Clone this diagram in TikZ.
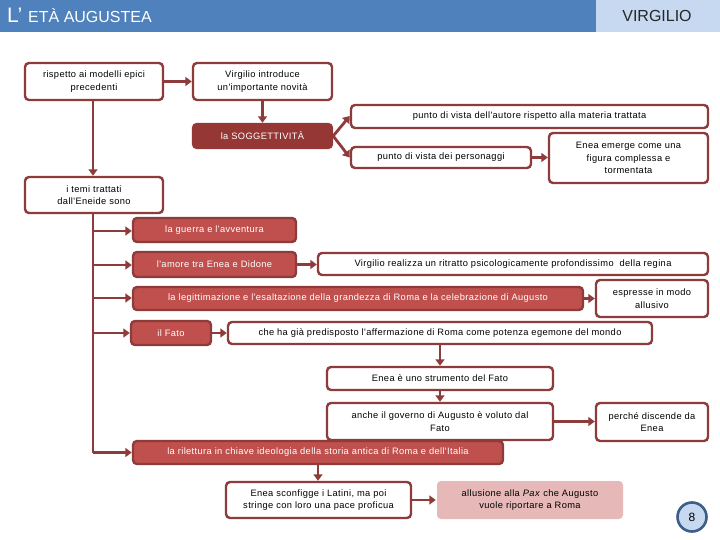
\documentclass[tikz,border=0pt]{standalone}
\usepackage{fontspec}
\setmainfont{Liberation Sans}
\newfontfamily\boxfont[LetterSpace=4]{Liberation Sans}
\usetikzlibrary{arrows.meta}
\definecolor{bordo}{HTML}{8E3B3B}
\definecolor{rosso}{HTML}{C0504D}
\definecolor{scuro}{HTML}{953735}
\definecolor{rosa}{HTML}{E6B9B8}
\definecolor{blu}{HTML}{4F81BD}
\definecolor{azzurro}{HTML}{C6D9F1}
\definecolor{cerchio}{HTML}{C6D9F1}
\definecolor{cerchiobordo}{HTML}{3D5E88}
\tikzset{
  box/.style={draw=bordo, line width=2.4pt, rounded corners=4pt, fill=white, align=center,
    font=\boxfont\fontsize{9.3}{12.5}\selectfont, inner sep=1pt, text=black},
  fbox/.style={box, fill=rosso, text=white},
  dbox/.style={box, fill=scuro, text=white, draw=scuro},
  pbox/.style={box, fill=rosa, draw=none},
  conn/.style={draw=bordo, line width=2.8pt},
  arr/.style={conn, -{Triangle[length=6.5pt,width=9pt]}},
}
\newcommand{\bx}[7]{\node[#1, minimum width=#4pt, minimum height=#5pt] (#6) at (#2,#3) {#7};}
\begin{document}
\begin{tikzpicture}[x=1pt,y=-1pt]
\useasboundingbox (0,0) rectangle (720,540);
\fill[white] (0,0) rectangle (720,540);
% header
\fill[blu] (0,0) rectangle (596,32);
\fill[azzurro] (596,0) rectangle (720,32);
\node[anchor=base west, text=white, inner sep=0pt] (title) at (7,23) {\fontsize{21}{21}\selectfont L’ \fontsize{16}{16}\selectfont ETÀ AUGUSTEA};
\node[text=black!85, inner sep=0pt] (virg) at (657,16) {\fontsize{16}{16}\selectfont VIRGILIO};

% trunk (drawn first)
\coordinate (tk) at (93,213);
\coordinate (tkend) at (93,452.5);
\draw[conn] (tk) -- (tkend);

% boxes
\bx{box}{94}{81.5}{138}{37}{b1}{rispetto ai modelli epici\\precedenti}
\bx{box}{262.5}{81.5}{139}{37}{b2}{Virgilio introduce\\un'importante novità}
\bx{dbox}{262.5}{136}{139}{24}{sogg}{la SOGGETTIVITÀ}
\bx{box}{529.5}{116.5}{357}{23}{pva}{punto di vista dell'autore rispetto alla materia trattata}
\bx{box}{441}{157.5}{180}{21}{pvp}{punto di vista dei personaggi}
\bx{box}{628.5}{158}{159}{50}{enea}{Enea emerge come una\\figura complessa e\\tormentata}
\bx{box}{94}{195}{138}{36}{temi}{i temi trattati\\dall'Eneide sono}
\bx{fbox}{214.5}{230}{163}{24}{guerra}{la guerra e l'avventura}
\bx{fbox}{214.5}{264.5}{163}{25}{amore}{l'amore tra Enea e Didone}
\bx{fbox}{358}{298.5}{450}{23}{legit}{la legittimazione e l'esaltazione della grandezza di Roma e la celebrazione di Augusto}
\bx{fbox}{171}{333}{80}{24}{fato}{il Fato}
\bx{box}{513}{264}{390}{22}{ritr}{Virgilio realizza un ritratto psicologicamente profondissimo\ \ della regina}
\bx{box}{652}{298.5}{112}{37}{espr}{espresse in modo\\allusivo}
\bx{box}{440}{333}{424}{22}{pred}{che ha già predisposto l'affermazione di Roma come potenza egemone del mondo}
\bx{box}{440}{378.5}{226}{23}{strum}{Enea è uno strumento del Fato}
\bx{fbox}{318}{452.5}{370}{23}{rilett}{la rilettura in chiave ideologia della storia antica di Roma e dell'Italia}
\bx{box}{440}{421.5}{226}{37}{gov}{anche il governo di Augusto è voluto dal\\Fato}
\bx{box}{652}{422}{112}{38}{perche}{perché discende da\\Enea}
\bx{box}{318.5}{500}{185}{36}{sconf}{Enea sconfigge i Latini, ma poi\\stringe con loro una pace proficua}
\bx{pbox}{530}{500}{186}{38}{pax}{allusione alla \textit{Pax} che Augusto\\vuole riportare a Roma}
\node[circle, draw=cerchiobordo, line width=2.6pt, fill=cerchio, minimum size=29pt, inner sep=0pt,
  font=\fontsize{12}{12}\selectfont] (num) at (692,517) {8};

% connectors
\draw[arr] (b1.east) -- (b2.west);
\draw[arr] (b1.south -| 93,0) -- (temi.north -| 93,0);
\draw[arr] (b2.south) -- (sogg.north);
\draw[arr] (sogg.east) -- (pva.west |- 0,116);
\draw[arr] (sogg.east) -- (pvp.west);
\draw[arr] (pvp.east) -- (enea.west |- pvp.east);
\draw[arr] (93,231) -- (guerra.west |- 0,231);
\draw[arr] (93,265) -- (amore.west |- 0,265);
\draw[arr] (93,298) -- (legit.west |- 0,298);
\draw[arr] (93,333) -- (fato.west);
\draw[arr] (tkend) -- (rilett.west);
\draw[arr] (amore.east) -- (ritr.west |- amore.east);
\draw[arr] (legit.east) -- (espr.west |- legit.east);
\draw[arr] (fato.east) -- (pred.west);
\draw[arr] (pred.south) -- (strum.north);
\draw[arr] (strum.south) -- (gov.north);
\draw[arr] (gov.east) -- (perche.west |- gov.east);
\draw[arr] (rilett.south) -- (sconf.north -| rilett.south);
\draw[arr] (sconf.east) -- (pax.west);
\end{tikzpicture}
\end{document}
